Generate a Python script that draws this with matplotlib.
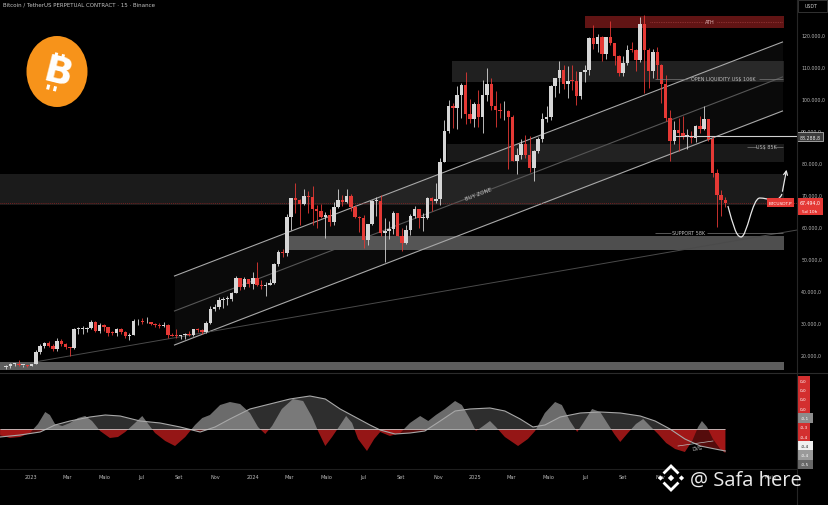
import datetime as dt
import numpy as np
import matplotlib
matplotlib.use("Agg")
import matplotlib.pyplot as plt
import matplotlib.dates as mdates
from matplotlib.lines import Line2D
from matplotlib.patches import Rectangle, Ellipse, PathPatch, Polygon
from matplotlib.path import Path

W, H = 829, 506

# weekly candles (BTCUSDT.P), prices in thousand USDT, open = previous close
first_week = dt.date(2022, 11, 21)
first_open = 16.28
closes = [
    16.45, 17.10, 17.20, 16.75, 16.84, 16.62,
    17.13, 20.88, 22.92, 23.74, 22.93, 21.78, 24.32, 23.55, 22.43, 22.13,
    27.99, 27.99, 28.17, 28.32, 30.30, 27.59, 29.23, 28.85, 26.78, 26.75,
    28.08, 27.10, 25.90, 26.34, 30.47, 30.60, 30.16, 30.23, 29.77, 29.23,
    29.05, 29.30, 26.10, 26.00, 25.84, 26.10, 26.53, 26.25, 27.97, 27.92,
    27.15, 29.99, 34.53, 35.01, 37.06, 37.45, 37.45, 39.46, 43.99, 41.37,
    43.70, 42.28,
    43.93, 41.73, 41.58, 42.03, 42.58, 48.30, 52.14, 51.73, 63.12, 68.96,
    68.39, 67.21, 69.65, 69.36, 65.66, 64.94, 63.11, 63.89, 61.48, 66.27,
    68.51, 67.77, 69.65, 66.22, 63.23, 62.70, 55.85, 60.80, 68.16, 68.25,
    58.12, 58.70, 59.50, 64.25, 57.30, 54.85, 59.13, 63.58, 65.60, 62.82,
    62.85, 69.03, 68.00, 68.74, 80.45, 89.85, 97.95, 97.20, 101.20, 104.50,
    95.20, 93.72, 98.30,
    94.50, 101.30, 104.70, 97.70, 96.50, 96.10, 96.20, 94.27, 80.70, 82.60,
    86.08, 82.40, 78.40, 83.70, 87.50, 93.80, 94.30, 104.10, 106.50, 109.00,
    104.60, 105.70, 105.50, 100.90, 108.30, 109.20, 119.00, 117.30, 119.40, 114.20,
    119.30, 117.40, 113.50, 108.20, 111.15, 115.30, 115.20, 112.20, 123.50, 115.20,
    108.70, 114.60, 110.60, 104.70, 94.00, 86.80, 90.40, 89.40, 88.30, 88.40,
    87.80, 91.50,
    90.60, 93.60, 87.50, 76.80, 69.90, 68.30, 67.494,
]
highs = [
    16.75, 17.40, 17.40, 18.39, 17.00, 16.95,
    17.20, 21.60, 23.37, 23.96, 24.25, 23.40, 25.25, 25.13, 23.88, 22.60,
    28.40, 28.87, 29.20, 28.80, 31.00, 30.48, 30.03, 29.80, 28.88, 27.65,
    28.45, 28.45, 27.40, 26.80, 31.40, 31.28, 31.50, 31.80, 30.45, 29.99,
    29.99, 30.24, 29.70, 26.85, 28.15, 26.40, 27.00, 27.48, 28.05, 28.58,
    27.99, 30.50, 35.20, 35.98, 37.97, 38.00, 38.42, 39.80, 44.70, 44.05,
    44.30, 43.80,
    45.90, 49.00, 43.58, 42.85, 43.88, 48.60, 52.90, 52.98, 64.00, 69.00,
    73.78, 68.90, 71.77, 71.30, 72.80, 66.90, 67.20, 64.70, 65.50, 67.70,
    71.95, 70.00, 71.95, 70.20, 67.00, 63.40, 63.80, 61.00, 68.40, 69.40,
    70.00, 62.70, 61.80, 65.00, 64.50, 59.80, 60.68, 64.10, 66.50, 65.60,
    64.50, 69.50, 69.50, 73.60, 81.50, 93.48, 99.60, 98.80, 104.00, 105.10,
    108.35, 99.90, 98.95,
    102.70, 106.00, 109.60, 106.50, 102.50, 98.80, 99.50, 96.50, 95.00, 84.70,
    87.45, 88.80, 88.50, 84.00, 88.00, 95.70, 97.90, 104.30, 106.70, 111.98,
    110.70, 110.40, 110.50, 108.90, 108.50, 110.50, 119.50, 123.20, 120.30, 119.80,
    119.50, 124.50, 117.60, 113.70, 113.40, 116.80, 117.90, 115.50, 125.60, 126.20,
    115.90, 115.50, 116.40, 110.80, 107.50, 96.60, 93.10, 94.00, 94.60, 90.60,
    90.00, 91.80,
    94.80, 97.90, 93.70, 88.50, 78.00, 71.50, 69.50,
]
lows = [
    15.48, 16.00, 16.70, 16.50, 16.40, 16.33,
    16.58, 17.12, 20.40, 22.30, 22.50, 21.40, 21.35, 22.75, 21.97, 19.55,
    21.90, 26.60, 26.50, 27.20, 28.17, 27.10, 26.97, 27.65, 25.80, 26.35,
    25.90, 26.60, 25.35, 24.80, 26.25, 29.50, 29.70, 29.95, 29.50, 28.85,
    28.58, 28.70, 25.16, 25.80, 25.35, 24.90, 24.90, 26.00, 26.00, 27.15,
    26.53, 26.90, 29.70, 33.90, 34.50, 34.77, 35.70, 36.90, 39.45, 40.20,
    40.55, 41.30,
    40.75, 41.50, 40.60, 38.55, 41.80, 42.25, 47.70, 50.50, 50.90, 59.00,
    64.50, 60.77, 66.80, 64.50, 60.60, 59.60, 62.80, 56.55, 60.20, 60.75,
    66.00, 66.60, 67.50, 65.10, 62.90, 58.40, 53.50, 54.26, 60.65, 63.50,
    57.12, 49.10, 56.20, 57.80, 57.20, 52.55, 54.60, 57.50, 62.70, 59.80,
    58.90, 62.40, 65.00, 67.50, 66.80, 80.20, 89.40, 90.80, 90.50, 94.15,
    92.20, 92.50, 91.20,
    91.20, 89.25, 99.50, 96.70, 91.20, 94.00, 93.30, 78.20, 80.50, 76.60,
    81.10, 81.60, 77.10, 74.50, 83.10, 86.60, 92.80, 93.40, 100.70, 102.00,
    103.00, 100.40, 102.70, 98.20, 100.00, 105.20, 107.50, 115.70, 114.70, 112.00,
    112.60, 116.80, 110.60, 107.30, 107.30, 110.60, 114.80, 108.60, 111.60, 102.00,
    103.50, 106.60, 106.30, 98.90, 93.00, 80.60, 86.00, 83.80, 87.60, 84.40,
    86.40, 86.50,
    89.30, 90.20, 87.00, 75.70, 60.10, 63.40, 66.20,
]

# price zones (thousand USDT)
zone_names = ["ATH", "OPEN LIQUIDITY US$ 106K", "US$ 85K", "BUY ZONE", "SUPPORT 58K", "BASE"]
zone_lo = [122.2, 105.3, 80.3, 66.9, 52.8, 15.3]
zone_hi = [125.9, 111.9, 85.9, 76.6, 57.2, 17.8]
zone_start = ["2025-06-30", "2024-11-23", "2024-11-15", "2022-11-01", "2024-02-27", "2022-11-01"]
zone_end = "2026-05-23"

# regression channel and long trend line
chan_dates = ["2023-08-25", "2026-05-21"]
chan_upper = [44.69, 117.81]
chan_mid = [33.75, 106.88]
chan_lower = [23.13, 96.25]
trend_dates = ["2023-01-07", "2026-06-14"]
trend_vals = [17.81, 59.06]

# projected path after the last candle: weeks after last candle / price
proj_wk = [0.6, 1.8, 2.5, 3.7, 5.1, 6.3, 8.1, 10.0, 12.4, 13.3]
proj_px = [66.56, 60.94, 56.88, 56.88, 56.88, 69.06, 69.06, 69.06, 67.19, 70.31]
arrow_wk = 14.5
arrow_px = 78.75

last_price = 67.494
mark_price = 88.2888
countdown = "5d 10h"
price_ticks = list(range(20, 130, 10))

# oscillator (weeks from first candle / value)
fast_wk = [-1.4, 0.9, 3.3, 5.6, 7.5, 9.2, 10.3, 11.5, 13.2, 15.0, 16.9, 18.6, 20.2, 22.1,
           24.4, 26.3, 28.0, 30.3, 32.0, 33.4, 35.0, 37.4, 39.7, 42.1, 44.4, 46.1, 47.9,
           50.3, 52.6, 55.0, 57.3, 59.2, 60.9, 62.5, 64.8, 67.4, 69.8, 71.9, 73.3, 75.0,
           76.6, 78.5, 79.9, 81.3, 82.7, 84.8, 86.5, 87.9, 90.2, 92.6, 94.9, 97.3, 99.2,
           101.0, 103.1, 105.5, 107.1, 109.0, 110.4, 111.8, 113.7, 115.1, 117.2, 120.3,
           122.6, 124.3, 126.6, 129.0, 130.6, 132.5, 134.2, 135.6, 137.7, 139.6, 141.4,
           142.9, 144.3, 146.1, 148.0, 149.7, 151.3, 153.2, 155.1, 157.2, 159.5, 161.2,
           162.6, 163.5, 164.7, 166.1, 167.8, 169.0]
fast_val = [-6, -9, -8, -4, 5, 17, 14, 5, 3, 6, 11, 13, 8, -2, -9, -8, -3, 6, 13, 5, -4,
            -12, -17, -8, 4, 11, 14, 24, 27, 25, 16, 2, -5, 3, 20, 30, 28, 12, -2, -17, -8,
            4, 13, 6, -10, -22, -10, -3, -7, -4, 6, 13, 8, 14, 20, 28, 24, 10, -2, 2, 8, 2,
            -8, -17, -10, -2, 16, 27, 24, 8, -3, 6, 20, 17, 5, -5, -13, -4, 5, 10, 3, -5,
            -14, -20, -23, -12, 2, 8, 2, -10, -20, -24]
sig_wk = [-1.4, 3.3, 8.0, 11.5, 15.0, 19.7, 23.3, 26.8, 31.5, 36.2, 40.9, 45.6, 49.1, 52.6,
          57.3, 62.0, 66.7, 71.4, 75.0, 78.5, 82.0, 85.5, 87.9, 91.4, 94.9, 98.4, 102.0,
          105.5, 109.0, 113.7, 117.2, 120.8, 123.8, 126.6, 130.2, 134.9, 139.6, 144.3,
          149.0, 152.5, 156.0, 159.5, 163.1, 166.6, 169.0]
sig_val = [-8, -6, -3, 4, 8, 12, 14, 13, 8, 6, 2, -3, 2, 10, 20, 25, 30, 33, 30, 20, 12, 4,
           -1, -5, -4, -2, 8, 18, 20, 21, 18, 10, 2, 4, 12, 16, 17, 16, 13, 8, 0, -10, -17,
           -20, -22]
ind_labels = ["0,0", "0,0", "0,0", "0,0", "-0,1", "-0,3", "-0,4", "-0,4", "-0,4", "-0,5"]
ind_colors = ["#d32f2f"] * 4 + ["#8d8d8d", "#d32f2f", "#d32f2f", "#f0f0f0", "#9a9a9a", "#686868"]

month_labels = {3: "Mar", 5: "Maio", 7: "Jul", 9: "Set", 11: "Nov"}

UP = "#d6d6d6"
DOWN = "#e53935"

t0 = mdates.date2num(dt.date(2023, 1, 1))


def xd(px):  # screen x pixel -> date number (for annotations)
    return t0 + (px - 31) / 0.608


def yd(py):  # screen y pixel -> price (thousand)
    return 120 - (py - 36) / 3.2


def py_of(p):
    return 36 + (120 - p) * 3.2


def dnum(s):
    return mdates.date2num(dt.date.fromisoformat(s))


def fmt_price(v):
    s = f"{v * 1000:,.1f}"
    return s.replace(",", "X").replace(".", ",").replace("X", ".")


def fig_rect(x, y, w, h, **kw):
    r = Rectangle((x / W, 1 - (y + h) / H), w / W, h / H, transform=fig.transFigure, **kw)
    fig.add_artist(r)
    return r


def fig_text(x, y, s, **kw):
    kw.setdefault("ha", "center")
    kw.setdefault("va", "center")
    fig.text(x / W, 1 - y / H, s, **kw)


def fig_line(xs, ys, **kw):
    fig.add_artist(Line2D([x / W for x in xs], [1 - y / H for y in ys],
                          transform=fig.transFigure, **kw))


fig = plt.figure(figsize=(W / 100, H / 100), dpi=100, facecolor="black")
ax = fig.add_axes([0, 1 - 373 / H, 797 / W, 373 / H])
axi = fig.add_axes([0, 1 - 470 / H, 797 / W, 96 / H])
x_left, x_right = xd(0), xd(797)
for a in (ax, axi):
    a.set_facecolor("black")
    for s in a.spines.values():
        s.set_visible(False)
    a.set_xlim(x_left, x_right)

ax.set_ylim(yd(373), yd(0))
ax.tick_params(axis="x", bottom=False, labelbottom=False)
ax.yaxis.tick_right()
ax.set_yticks(price_ticks)
ax.set_yticklabels([fmt_price(v) for v in price_ticks])
ax.tick_params(axis="y", length=0, pad=3, labelsize=3.4, labelcolor="#b5b5b5")
for lab in ax.get_yticklabels():
    lab.set_horizontalalignment("left")

# zones
zone_alpha = [0.0, 0.13, 0.10, 0.11, 0.31, 0.37]
xe = dnum(zone_end)
for i, (lo_, hi_, st) in enumerate(zip(zone_lo, zone_hi, zone_start)):
    x0 = dnum(st)
    if zone_names[i] == "ATH":
        ax.add_patch(Rectangle((x0, lo_), xe - x0, hi_ - lo_, facecolor="#7a1a1a",
                               alpha=0.8, lw=0, zorder=1))
    else:
        ax.add_patch(Rectangle((x0, lo_), xe - x0, hi_ - lo_, facecolor="white",
                               alpha=zone_alpha[i], lw=0, zorder=1))

# regression channel
cx = [dnum(d) for d in chan_dates]
ax.fill_between(cx, chan_lower, chan_upper, color="white", alpha=0.045, lw=0, zorder=0.8)
ax.plot(cx, chan_upper, color="#a8a8a8", lw=0.8, zorder=2)
ax.plot(cx, chan_mid, color="#565656", lw=0.8, zorder=2)
ax.plot(cx, chan_lower, color="#a8a8a8", lw=0.8, zorder=2)
ax.plot([dnum(d) for d in trend_dates], trend_vals, color="#4a4a4a", lw=0.7, zorder=2)

# current price dotted line
ax.axhline(last_price, color="#8e2323", lw=0.6, ls=(0, (1, 1.3)), zorder=2.5)

# candles
c = np.array(closes)
o = np.r_[first_open, c[:-1]]
hi = np.maximum(np.array(highs), np.maximum(o, c))
lo = np.minimum(np.array(lows), np.minimum(o, c))
t = mdates.date2num(first_week) + 7 * np.arange(len(c))
cols = np.where(c >= o, UP, DOWN)
ax.vlines(t, lo, hi, colors=cols, lw=0.6, zorder=3)
ax.bar(t, np.maximum(np.abs(c - o), 0.3), bottom=np.minimum(o, c), width=5.7,
       color=cols, lw=0, zorder=3.1)

# mark price line
ax.hlines(mark_price, xd(673), x_right, color="#d0d0d0", lw=0.8, zorder=4)


def label_line(py, x0, x1, xc, gap, text, color="#7a7a7a", tcolor="#bdbdbd", ls="-"):
    y = yd(py)
    ax.hlines(y, xd(x0), xd(xc - gap), color=color, lw=0.5, ls=ls, zorder=4)
    ax.hlines(y, xd(xc + gap), xd(x1), color=color, lw=0.5, ls=ls, zorder=4)
    ax.text(xd(xc), y, text, fontsize=3.5, color=tcolor, ha="center", va="center", zorder=5)


label_line(23, 650, 783, 710, 7, zone_names[0], color="#b24a4a", tcolor="#e4b8b8", ls=(0, (1, 1.5)))
label_line(80, 655, 783, 723, 36, zone_names[1])
label_line(148, 747, 783, 766, 9, zone_names[2])
label_line(234, 655, 783, 689, 18, zone_names[4])
ax.text(xd(479), yd(195), zone_names[3], fontsize=4, color="#c8c8c8", rotation=21,
        ha="center", va="center", zorder=5)

# projection path
tl = t[-1]
px_ = [tl + 7 * w for w in proj_wk]
verts = list(zip(px_, proj_px))
codes = [Path.MOVETO] + [Path.CURVE4] * 9
ax.add_patch(PathPatch(Path(verts, codes), facecolor="none", edgecolor="#e8e8e8", lw=0.9, zorder=5))
ax.annotate("", xy=(tl + 7 * arrow_wk, arrow_px), xytext=(px_[-1], proj_px[-1]),
            arrowprops=dict(arrowstyle="->", color="#e8e8e8", lw=0.9, mutation_scale=7),
            zorder=5)

# indicator pane
axi.set_ylim(-40, 56)
axi.set_yticks([])
fast = np.array(fast_val, float)
sig = np.array(sig_val, float)
tf = t[0] + 7 * np.array(fast_wk)
ts = t[0] + 7 * np.array(sig_wk)
axi.fill_between(ts, 0, sig, where=sig >= 0, interpolate=True, color="#2e2e2e", lw=0)
axi.fill_between(ts, 0, sig, where=sig <= 0, interpolate=True, color="#550c0c", lw=0)
axi.fill_between(tf, 0, fast, where=fast >= 0, interpolate=True, color="#9a9a9a", alpha=0.7, lw=0)
axi.fill_between(tf, 0, fast, where=fast <= 0, interpolate=True, color="#b01a1a", alpha=0.85, lw=0)
axi.plot(ts, sig, color="#a8a8a8", lw=0.8)
axi.hlines(0, tf[0], tf[-1], color="#c8c8c8", lw=0.6)
axi.plot([xd(678), xd(713)], [430 - 447, 430 - 442], color="#bdbdbd", lw=0.5)
axi.text(xd(697), 430 - 449, "DVG", fontsize=3.4, color="#cfcfcf", rotation=8,
         ha="center", va="center")

# month ticks; the ones fully hidden by the watermark are left out
tick_dates = [dt.date(y, m, 1) for y in (2023, 2024, 2025, 2026) for m in (1, 3, 5, 7, 9, 11)]
tick_dates = [d for d in tick_dates if d <= dt.date(2025, 11, 1) or d == dt.date(2026, 5, 1)]
axi.set_xticks([mdates.date2num(d) for d in tick_dates])
axi.set_xticklabels([str(d.year) if d.month == 1 else month_labels[d.month] for d in tick_dates])
axi.tick_params(axis="x", length=0, pad=3.5, labelsize=3.6, labelcolor="#bdbdbd")

# separators
fig_line([797, 797], [0, 506], color="#262626", lw=0.8)
fig_line([0, 829], [373.5, 373.5], color="#2b2b2b", lw=0.8)
fig_line([0, 797], [470, 470], color="#1e1e1e", lw=0.8)

# right axis boxes
fig_rect(798, 0.5, 29, 12, facecolor="black", edgecolor="#3a3a3a", lw=0.6)
fig_text(811, 6.5, "USDT", fontsize=3.4, color="#cfcfcf")
ym = py_of(mark_price)
fig_rect(797, ym - 4, 26, 9, facecolor="#3c3c3c", edgecolor="#cfcfcf", lw=0.5)
fig_text(810, ym + 0.5, fmt_price(mark_price), fontsize=3.3, color="#e8e8e8")
yl = py_of(last_price)
fig_rect(797, yl - 5, 26, 17, facecolor="#e53935", lw=0)
fig_text(810, yl - 0.5, fmt_price(last_price), fontsize=3.4, color="white")
fig_text(810, yl + 7.5, countdown, fontsize=3.2, color="white")
fig_rect(767, yl - 5, 27, 9, facecolor="#e53935", lw=0)
fig_text(780.5, yl - 0.5, "BTCUSDT.P", fontsize=3.2, color="white")

for k, (s, col) in enumerate(zip(ind_labels, ind_colors)):
    y = 377 + 9.3 * k
    w = 13 if col == "#d32f2f" else 16
    fig_rect(797, y, w, 9.3, facecolor=col, lw=0)
    fig_text(797 + w / 2, y + 4.8, s, fontsize=3.1, color="#222222" if col == "#f0f0f0" else "white")

# header
fig_text(3, 5, "Bitcoin / TetherUS PERPETUAL CONTRACT \u00b7 15 \u00b7 Binance", ha="left",
         fontsize=4, color="#c4c4c4")

# bitcoin logo
fig.add_artist(Ellipse((57 / W, 1 - 72.5 / H), 61 / W, 71 / H, transform=fig.transFigure,
                       facecolor="#f7931a", lw=0))
fig_text(58, 74, "B", fontsize=27, fontweight="bold", color="white", rotation=-14)
th = np.deg2rad(14)
for dx in (-6.0, 1.0):
    for y0, y1 in ((14, 19), (-14, -19)):
        pts = []
        for yy in (y0, y1):
            xr = dx * np.cos(th) + yy * np.sin(th)
            yr = -dx * np.sin(th) + yy * np.cos(th)
            pts.append((58 + xr, 73.5 - yr))
        fig_line([p[0] for p in pts], [p[1] for p in pts], color="white", lw=2.2,
                 solid_capstyle="butt")

# watermark
lx, ly = 671, 479
for ddx in (-10.5, 10.5):
    fig.add_artist(Polygon([((lx + ddx) / W, 1 - (ly - 2.6) / H), ((lx + ddx + 2.6) / W, 1 - ly / H),
                            ((lx + ddx) / W, 1 - (ly + 2.6) / H), ((lx + ddx - 2.6) / W, 1 - ly / H)],
                           transform=fig.transFigure, facecolor="white", lw=0))
fig.add_artist(Polygon([(lx / W, 1 - (ly - 3.2) / H), ((lx + 3.2) / W, 1 - ly / H),
                        (lx / W, 1 - (ly + 3.2) / H), ((lx - 3.2) / W, 1 - ly / H)],
                       transform=fig.transFigure, facecolor="white", lw=0))
for sgn in (-1, 1):
    fig_line([lx - 6.5, lx, lx + 6.5], [ly + sgn * 5.5, ly + sgn * 12, ly + sgn * 5.5],
             color="white", lw=2.0, solid_joinstyle="miter")
fig_text(690, 481, "@ Safa here", ha="left", fontsize=14.5, family="Open Sans",
         color="white", alpha=0.92)

fig.savefig("out.png", dpi=100, facecolor="black")
